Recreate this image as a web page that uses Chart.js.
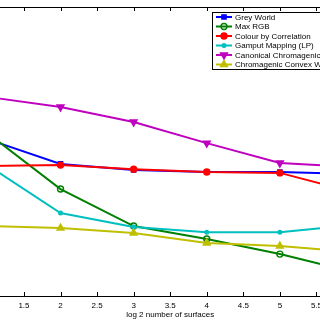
<!DOCTYPE html>
<html>
<head>
<meta charset="utf-8">
<script src="https://cdn.jsdelivr.net/npm/chart.js@4.4.1/dist/chart.umd.min.js"></script>
<style>
html,body{margin:0;padding:0;width:320px;height:320px;overflow:hidden;background:#fff;}
#wrap{position:absolute;left:-40px;top:0;width:440px;height:320px;}
</style>
</head>
<body>
<div id="wrap"><canvas id="c" width="440" height="320"></canvas></div>
<script>
const xValues = [1, 2, 3, 4, 5, 6];
const seriesNames = ["Grey World", "Max RGB", "Colour by Correlation", "Gamput Mapping (LP)", "Canonical Chromagenic", "Chromagenic Convex Weighted"];
const greyWorld   = [5.43, 4.57, 4.36, 4.29, 4.29, 4.22];
const maxRGB      = [5.64, 3.70, 2.42, 1.97, 1.45, 0.83];
const colourCorr  = [4.50, 4.53, 4.39, 4.29, 4.26, 3.60];
const gamutLP     = [4.53, 2.87, 2.39, 2.21, 2.21, 2.46];
const canonical   = [6.89, 6.54, 6.02, 5.29, 4.60, 4.46];
const convexW     = [2.42, 2.35, 2.18, 1.83, 1.73, 1.52];
const xTickStep = 0.5;
const xTitle = "log 2 number of surfaces";

const colors = ["rgb(0,0,255)", "rgb(0,128,0)", "rgb(255,0,0)", "rgb(0,191,191)", "rgb(191,0,191)", "rgb(191,191,0)"];
const styles = [
  {pointStyle:'rect', radius:3, fill:true, rot:0},
  {pointStyle:'circle', radius:3, fill:false, rot:0},
  {pointStyle:'circle', radius:3, fill:true, rot:0},
  {pointStyle:'circle', radius:1.8, fill:true, rot:0},
  {pointStyle:'triangle', radius:4, fill:true, rot:180},
  {pointStyle:'triangle', radius:4, fill:true, rot:0}
];
const allSeries = [greyWorld, maxRGB, colourCorr, gamutLP, canonical, convexW];

const datasets = allSeries.map((vals, i) => ({
  label: seriesNames[i],
  data: vals.map((v, k) => ({x: xValues[k], y: v})),
  borderColor: colors[i],
  backgroundColor: styles[i].fill ? colors[i] : 'rgba(0,0,0,0)',
  pointBackgroundColor: styles[i].fill ? colors[i] : 'rgba(0,0,0,0)',
  pointBorderColor: colors[i],
  pointStyle: styles[i].pointStyle,
  pointRadius: styles[i].radius,
  pointRotation: styles[i].rot,
  pointBorderWidth: 1.4,
  borderWidth: 2,
  tension: 0,
  order: 10 - i
}));

const PAGE_OFF = 40;
const framePlugin = {
  id: 'frame',
  afterDatasetsDraw(chart) {
    const {ctx, chartArea: a, scales} = chart;
    ctx.save();
    ctx.strokeStyle = '#000';
    ctx.lineWidth = 1;
    ctx.strokeRect(Math.round(a.left) + 0.5, Math.round(a.top) + 0.5, Math.round(a.right - a.left), Math.round(a.bottom - a.top));
    const xs = scales.x;
    ctx.beginPath();
    xs.ticks.forEach(t => {
      const px = Math.round(xs.getPixelForValue(t.value)) + 0.5;
      ctx.moveTo(px, a.top); ctx.lineTo(px, a.top + 4);
      ctx.moveTo(px, a.bottom); ctx.lineTo(px, a.bottom - 4);
    });
    ctx.stroke();

    // legend (NorthEast, inside plot)
    const bx = 212 + PAGE_OFF, by = 12, bw = 150, rowH = 9.5;
    const bh = 57;
    ctx.fillStyle = '#fff';
    ctx.fillRect(bx, by, bw, bh);
    ctx.strokeStyle = '#000';
    ctx.lineWidth = 1;
    ctx.strokeRect(bx + 0.5, by + 0.5, bw, bh);
    ctx.font = '8px "Liberation Sans", Arial, sans-serif';
    ctx.textBaseline = 'middle';
    chart.data.datasets.forEach((ds, i) => {
      const cy = by + 5 + rowH * i;
      const x0 = bx + 4, x1 = bx + 20, cx = (x0 + x1) / 2;
      ctx.strokeStyle = ds.borderColor;
      ctx.lineWidth = ds.borderWidth;
      ctx.beginPath(); ctx.moveTo(x0, cy); ctx.lineTo(x1, cy); ctx.stroke();
      ctx.lineWidth = ds.pointBorderWidth;
      ctx.fillStyle = ds.pointBackgroundColor;
      Chart.helpers.drawPoint(ctx, {pointStyle: ds.pointStyle, radius: ds.pointRadius, rotation: ds.pointRotation, borderWidth: ds.pointBorderWidth}, cx, cy);
      ctx.fillStyle = '#000';
      ctx.fillText(ds.label, bx + 23, cy + 0.5);
    });
    ctx.restore();
  }
};

new Chart(document.getElementById('c'), {
  type: 'line',
  data: { datasets },
  options: {
    responsive: false,
    animation: false,
    devicePixelRatio: 1,
    layout: { padding: { left: 27.4, right: 47, top: 7, bottom: 0 } },
    plugins: { legend: { display: false }, tooltip: { enabled: false } },
    scales: {
      x: {
        type: 'linear', min: 1, max: 6,
        ticks: { stepSize: xTickStep, color: '#000', padding: 5, callback: v => String(v), font: { size: 8, family: '"Liberation Sans", Arial, sans-serif' } },
        grid: { display: false, drawTicks: false },
        border: { display: false },
        title: { display: true, text: xTitle, color: '#000', padding: { top: 0, bottom: 0 }, font: { size: 8, family: '"Liberation Sans", Arial, sans-serif' } },
        afterFit(scale) { scale.height = 24; }
      },
      y: { type: 'linear', min: 0, max: 10, display: false }
    }
  },
  plugins: [framePlugin]
});
</script>
</body>
</html>
